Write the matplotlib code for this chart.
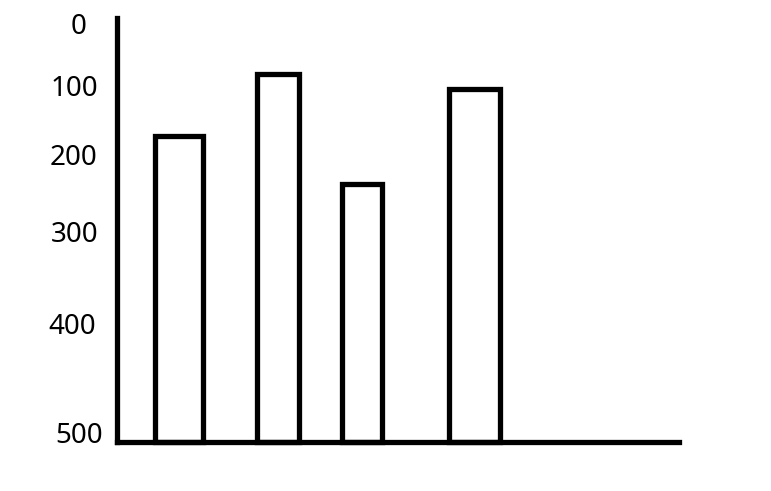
import numpy as np
import matplotlib
matplotlib.use("Agg")
import matplotlib.pyplot as plt

plt.rcParams['font.family'] = ['Noto Sans', 'DejaVu Sans']

# data
tick_vals = [0, 100, 200, 300, 400, 500]
tick_labels = ['0', '100', '200', '300', '400', '500']
values = [172, 81, 238, 104]

# hand drawn axis: where each label sits (pixels from top)
tick_pos = [24, 86, 155, 232, 324, 433]
label_dx = [-38, -42, -43, -42, -45, -38]
bar_x = [0.625, 1.61, 2.45, 3.575]
bar_w = [0.48, 0.42, 0.40, 0.51]

vals_ext = [-100] + tick_vals + [600]
pos_ext = [-38] + tick_pos + [542]

def fwd(v):
    return np.interp(v, vals_ext, pos_ext)

def inv(p):
    return np.interp(p, pos_ext, vals_ext)

fig = plt.figure(figsize=(7.71, 4.91), dpi=100)
ax = fig.add_axes([116.7 / 771, 49 / 491, 562.3 / 771, 424 / 491])
ax.set_yscale('function', functions=(fwd, inv))
y_top, y_bot = -9.7, 508.3
ax.set_ylim(y_bot, y_top)
ax.set_xlim(0, 5.623)

ax.bar(bar_x, np.array(values) - y_bot, bottom=y_bot, width=bar_w,
       fill=False, edgecolor='black', linewidth=3.8, clip_on=False)

for s in ['top', 'right']:
    ax.spines[s].set_visible(False)
for s in ['left', 'bottom']:
    ax.spines[s].set_linewidth(3.8)
    ax.spines[s].set_color('black')
ax.set_xticks([])
ax.set_yticks([])
ax.minorticks_off()

for v, lab, dx in zip(tick_vals, tick_labels, label_dx):
    ax.annotate(lab, xy=(0, v), xycoords=('axes fraction', 'data'),
                xytext=(dx, -3), textcoords='offset pixels',
                ha='center', va='center', fontsize=20, color='black')

fig.savefig('out.png', dpi=100)
